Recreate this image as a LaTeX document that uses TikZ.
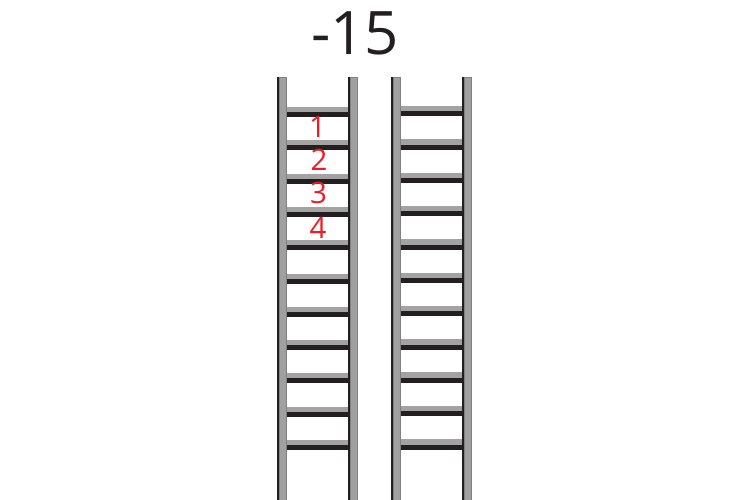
\documentclass[tikz,border=0pt]{standalone}
\usepackage{fontspec}
\setmainfont{Open Sans}
\definecolor{dk}{RGB}{35,31,32}
\definecolor{rg}{RGB}{163,163,163}
\definecolor{rl}{RGB}{160,160,160}
\definecolor{redn}{RGB}{237,28,36}
\begin{document}
\begin{tikzpicture}[x=1pt,y=-1pt,
  railfill/.style={fill=rl,draw=rl!80!black,line width=0.4pt},
  rungtop/.style={fill=rg},
  rungbot/.style={fill=dk},
  numlbl/.style={text=redn,font=\fontsize{29.5}{30}\selectfont,anchor=base,inner sep=0pt}]
\useasboundingbox[fill=white] (0,0) rectangle (750,500);
% left ladder rungs
\foreach \i in {0,...,10}{
  \pgfmathsetmacro{\yy}{107+33.3*\i}
  \fill[rungtop] (286,\yy) rectangle (350,\yy+5);
  \fill[rungbot] (286,\yy+5) rectangle (349,\yy+10);
}
% right ladder rungs
\foreach \i in {0,...,10}{
  \pgfmathsetmacro{\yy}{106+33.3*\i}
  \fill[rungtop] (400,\yy) rectangle (464,\yy+5.5);
  \fill[rungbot] (400,\yy+5.5) rectangle (463,\yy+10.5);
}
% rails: dark strip + gray bar
\foreach \x in {277,348,391,462}{
  \fill[dk] (\x,77) rectangle (\x+2.2,501);
  \draw[railfill] (\x+2.2,77) rectangle (\x+9.4,501);
}
\node[anchor=base,inner sep=0pt,text=dk,font=\fontsize{60}{60}\selectfont] (title) at (355,55) {-15};
\node[numlbl] (n1) at (317.5,138) {1};
\node[numlbl] (n2) at (319,171) {2};
\node[numlbl] (n3) at (318.5,204) {3};
\node[numlbl] (n4) at (318,238) {4};
\end{tikzpicture}
\end{document}
